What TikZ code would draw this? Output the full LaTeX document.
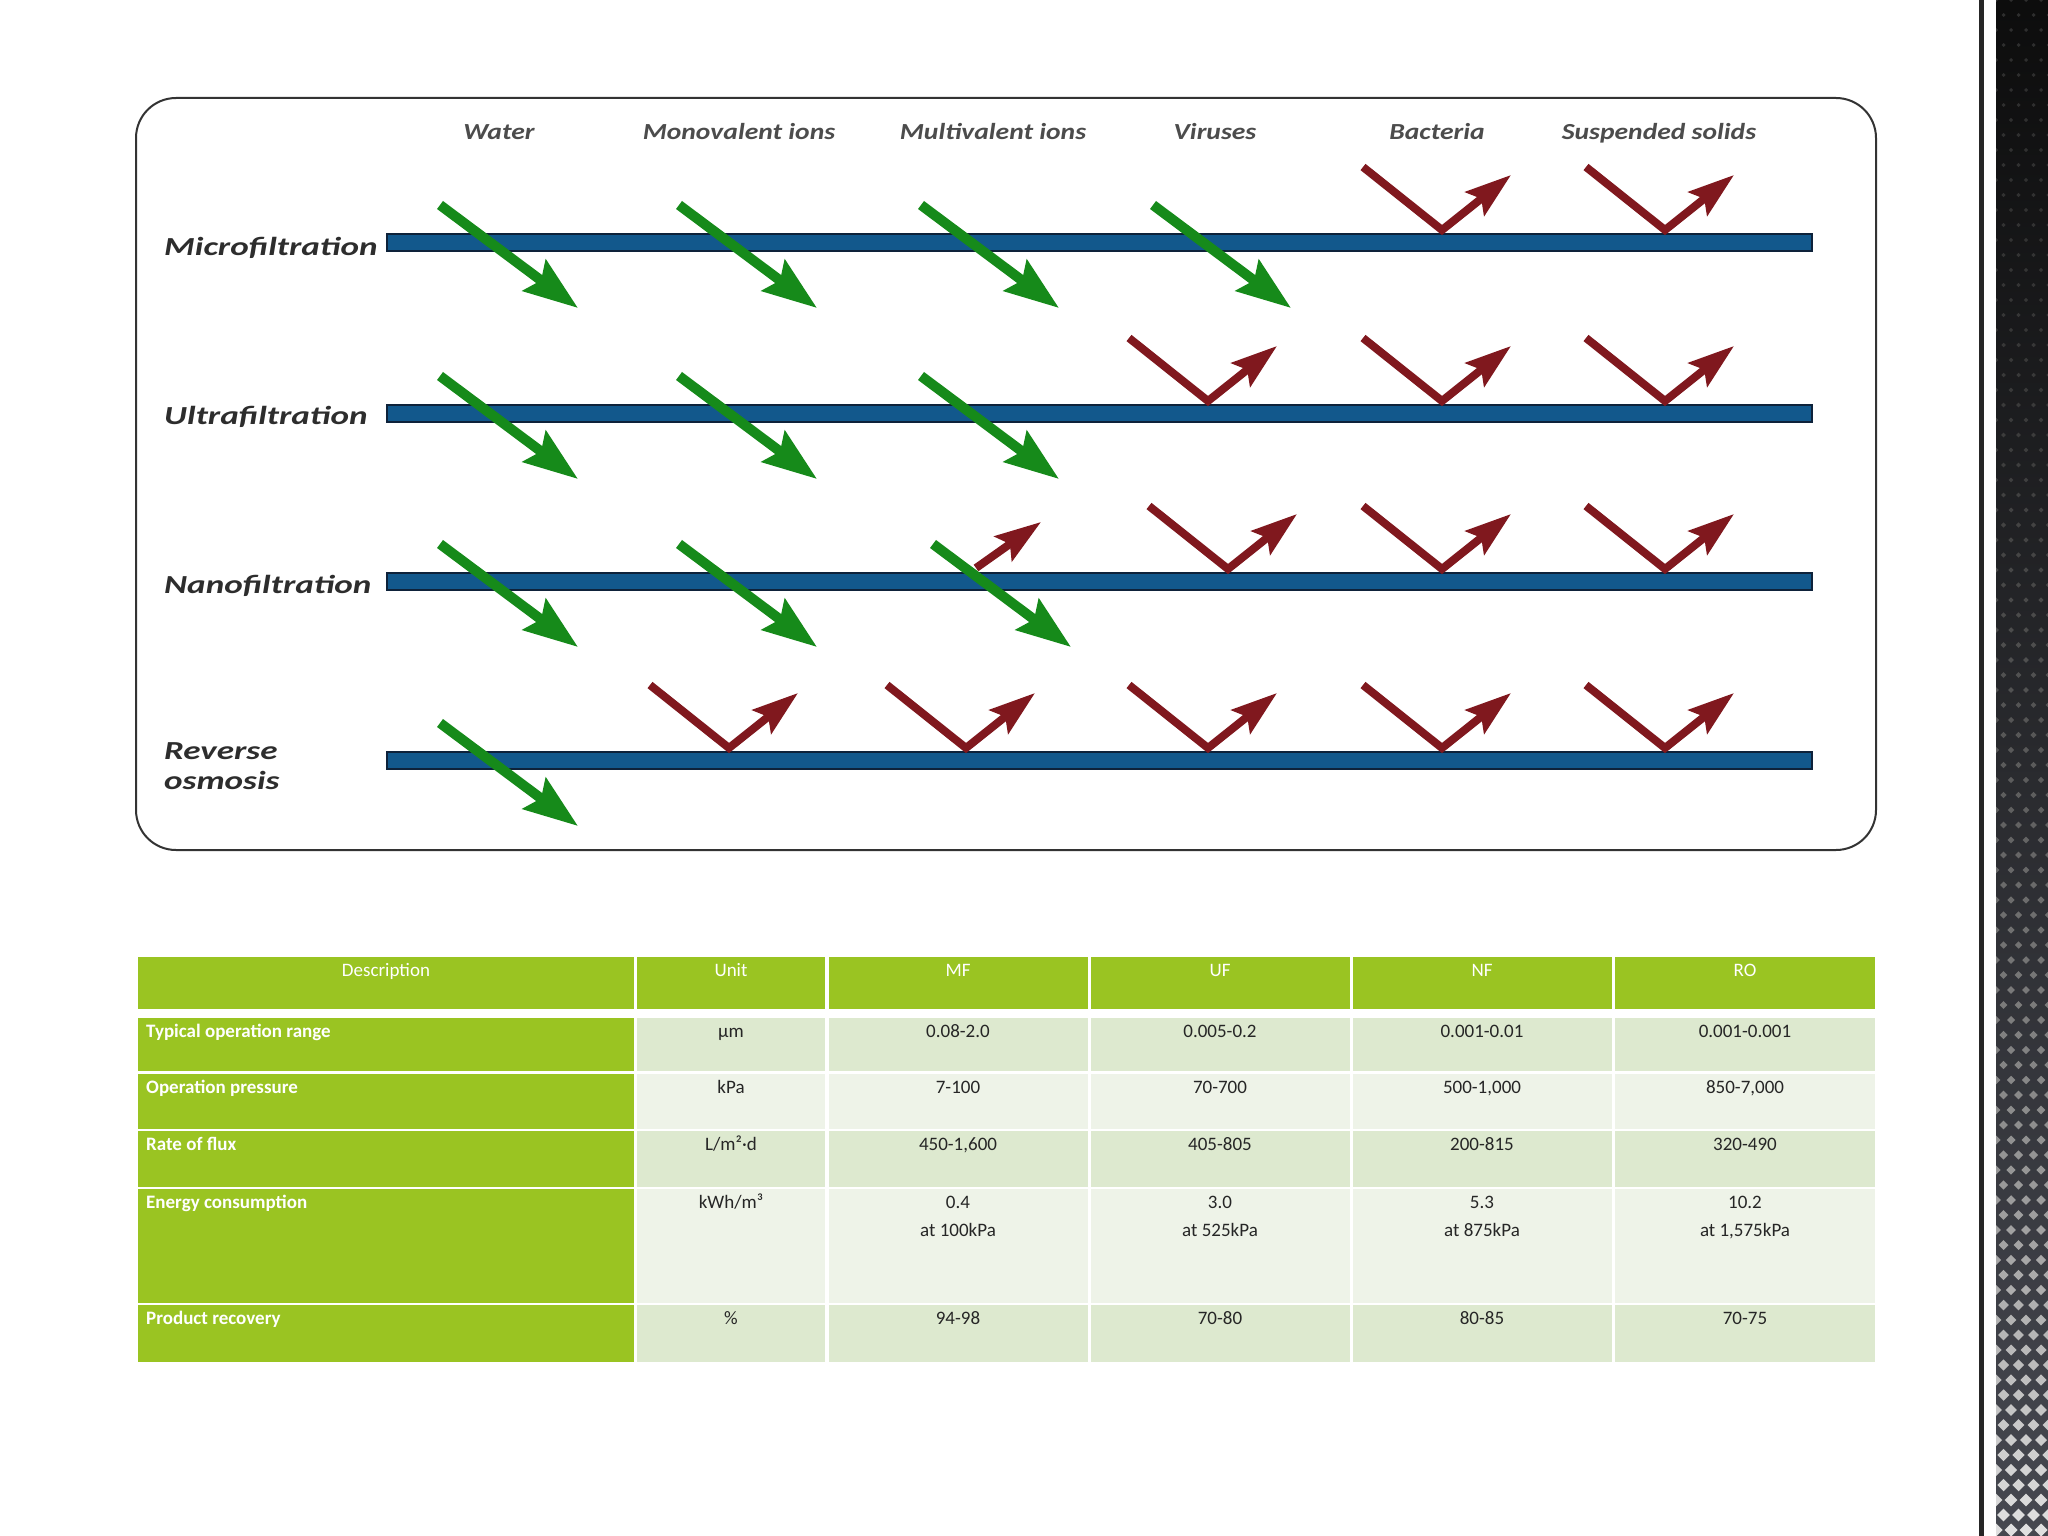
\documentclass[tikz,border=0pt]{standalone}
\usepackage{fontspec}
\setmainfont{Carlito}
\usetikzlibrary{arrows.meta}
\definecolor{barblue}{RGB}{18,88,140}
\definecolor{barline}{RGB}{14,34,58}
\definecolor{passgreen}{RGB}{22,138,26}
\definecolor{stopred}{RGB}{128,24,30}
\definecolor{labelgray}{RGB}{45,45,45}
\definecolor{limegreen}{RGB}{154,196,34}
\definecolor{celldark}{RGB}{221,233,207}
\definecolor{celllight}{RGB}{238,243,232}
\newcommand{\stretchlabel}[2][1.35]{\scalebox{#1}[1]{#2}}
\tikzset{
  membrane/.style={fill=barblue, draw=barline, line width=2pt},
  passarrow/.style={draw=passgreen, line width=10pt, -{Stealth[length=54pt,width=38pt,inset=8pt]}},
  stoparrow/.style={draw=stopred, line width=8pt, line join=miter, -{Stealth[length=46pt,width=30pt,inset=8pt]}},
  rowlabel/.style={anchor=base west, inner sep=0pt, text=labelgray, font=\fontsize{26}{30}\selectfont\bfseries\itshape},
  collabel/.style={anchor=base, inner sep=0pt, text=labelgray!85, font=\fontsize{23}{27}\selectfont\bfseries\itshape},
  headtext/.style={anchor=base, inner sep=0pt, text=white, font=\fontsize{19}{24}\selectfont},
  desctext/.style={anchor=base west, inner sep=0pt, text=white, font=\fontsize{19}{24}\selectfont\bfseries},
  celltext/.style={anchor=base, inner sep=0pt, text=black!85, font=\fontsize{19}{24}\selectfont}
}
\newcommand{\passing}[2]{\draw[passarrow] (#1,#2-37) -- ++(138,103);}
\newcommand{\rejected}[2]{\draw[stoparrow] (#1-79,#2-75) -- (#1,#2-12) -- (#1+69,#2-67);}

\begin{document}
\begin{tikzpicture}[x=1pt, y=-1pt]
	\useasboundingbox (0,0) rectangle (2048,1536);
	\fill[white] (0,0) rectangle (2048,1536);
	% Frame and labels:
	\draw[line width=2pt, draw=black!80, rounded corners=40pt] (136,98) rectangle (1876,850);
	\node[collabel] (cWater) at (499,140) {\stretchlabel[1.2]{Water}};
	\node[collabel] (cMono) at (739,140) {\stretchlabel[1.2]{Monovalent ions}};
	\node[collabel] (cMulti) at (993,140) {\stretchlabel[1.2]{Multivalent ions}};
	\node[collabel] (cVirus) at (1215,140) {\stretchlabel[1.2]{Viruses}};
	\node[collabel] (cBact) at (1437,140) {\stretchlabel[1.2]{Bacteria}};
	\node[collabel] (cSolid) at (1659,140) {\stretchlabel[1.2]{Suspended solids}};
	\node[rowlabel] (tMF) at (164,255) {\stretchlabel{Microfiltration}};
	\node[rowlabel] (tUF) at (164,424) {\stretchlabel{Ultrafiltration}};
	\node[rowlabel] (tNF) at (164,593) {\stretchlabel{Nanofiltration}};
	\node[rowlabel] (tRO1) at (164,759) {\stretchlabel{Reverse}};
	\node[rowlabel] (tRO2) at (164,789) {\stretchlabel{osmosis}};
	% Membranes:
	\foreach \y in {242, 413, 581, 760}
		\draw[membrane] (387,\y-8.5) rectangle (1812,\y+8.5);
	% Rejected species:
	\rejected{1442}{242} \rejected{1665}{242}
	\rejected{1208}{413} \rejected{1442}{413} \rejected{1665}{413}
	\rejected{1228}{581} \rejected{1442}{581} \rejected{1665}{581}
	\rejected{729}{760} \rejected{966}{760} \rejected{1208}{760} \rejected{1442}{760} \rejected{1665}{760}
	\draw[stoparrow] (976,568) -- (1041,522);
	% Passing species:
	\passing{440}{242} \passing{679}{242} \passing{921}{242} \passing{1153}{242}
	\passing{440}{413} \passing{679}{413} \passing{921}{413}
	\passing{440}{581} \passing{679}{581} \passing{933}{581}
	\passing{440}{760}
	% Table:
	\foreach \x/\w in {138/634, 637/825, 829/1088, 1091/1350, 1353/1612, 1615/1875}
		\fill[limegreen] (\x,957) rectangle (\w,1009);
	\foreach \top/\bot/\shade in {1018/1071/celldark, 1074/1129/celllight, 1131/1187/celldark, 1189/1303/celllight, 1305/1362/celldark} {
		\fill[limegreen] (138,\top) rectangle (634,\bot);
		\foreach \x/\w in {637/825, 829/1088, 1091/1350, 1353/1612, 1615/1875}
			\fill[\shade] (\x,\top) rectangle (\w,\bot);
	}
	\node[headtext] (hDesc) at (386,976) {Description};
	\node[headtext] (hUnit) at (731,976) {Unit};
	\node[headtext] (hMF) at (958,976) {MF};
	\node[headtext] (hUF) at (1220,976) {UF};
	\node[headtext] (hNF) at (1482,976) {NF};
	\node[headtext] (hRO) at (1745,976) {RO};
	\node[desctext] (dRange) at (146,1037) {Typical operation range};
	\node[desctext] (dPress) at (146,1093) {Operation pressure};
	\node[desctext] (dFlux) at (146,1150) {Rate of flux};
	\node[desctext] (dEnergy) at (146,1208) {Energy consumption};
	\node[desctext] (dRecov) at (146,1324) {Product recovery};
	\node[celltext] (uRange) at (731,1037) {µm};
	\node[celltext] (uPress) at (731,1093) {kPa};
	\node[celltext] (uFlux) at (731,1150) {L/m²·d};
	\node[celltext] (uEnergy) at (731,1208) {kWh/m³};
	\node[celltext] (uRecov) at (731,1324) {\%};
	\node[celltext] (rMF) at (958,1037) {0.08-2.0};
	\node[celltext] (rUF) at (1220,1037) {0.005-0.2};
	\node[celltext] (rNF) at (1482,1037) {0.001-0.01};
	\node[celltext] (rRO) at (1745,1037) {0.001-0.001};
	\node[celltext] (pMF) at (958,1093) {7-100};
	\node[celltext] (pUF) at (1220,1093) {70-700};
	\node[celltext] (pNF) at (1482,1093) {500-1,000};
	\node[celltext] (pRO) at (1745,1093) {850-7,000};
	\node[celltext] (fMF) at (958,1150) {450-1,600};
	\node[celltext] (fUF) at (1220,1150) {405-805};
	\node[celltext] (fNF) at (1482,1150) {200-815};
	\node[celltext] (fRO) at (1745,1150) {320-490};
	\node[celltext] (eMF) at (958,1208) {0.4};
	\node[celltext] (eUF) at (1220,1208) {3.0};
	\node[celltext] (eNF) at (1482,1208) {5.3};
	\node[celltext] (eRO) at (1745,1208) {10.2};
	\node[celltext] (eMFat) at (958,1236) {at 100kPa};
	\node[celltext] (eUFat) at (1220,1236) {at 525kPa};
	\node[celltext] (eNFat) at (1482,1236) {at 875kPa};
	\node[celltext] (eROat) at (1745,1236) {at 1,575kPa};
	\node[celltext] (vMF) at (958,1324) {94-98};
	\node[celltext] (vUF) at (1220,1324) {70-80};
	\node[celltext] (vNF) at (1482,1324) {80-85};
	\node[celltext] (vRO) at (1745,1324) {70-75};
	% Side band:
	\fill[black!85] (1979,0) rectangle (1984,1536);
	\shade[top color=black!95, bottom color={rgb,255:red,70;green,72;blue,80}] (1996,0) rectangle (2048,1536);
	\begin{scope}
		\clip (1996,0) rectangle (2048,1536);
		\foreach \r in {0,...,102} {
			\pgfmathsetmacro\yy{\r*15}
			\pgfmathsetmacro\tt{(\r/102)^2}
			\pgfmathsetmacro\ds{2+4.5*\tt}
			\pgfmathsetmacro\dc{18+70*\tt}
			\foreach \c in {0,...,4} {
				\pgfmathsetmacro\xx{1996+\c*15+mod(\r,2)*7.5}
				\fill[white!\dc!black] (\xx,\yy) +(0,-\ds) -- +(\ds,0) -- +(0,\ds) -- +(-\ds,0) -- cycle;
			}
		}
	\end{scope}
\end{tikzpicture}
\end{document}
